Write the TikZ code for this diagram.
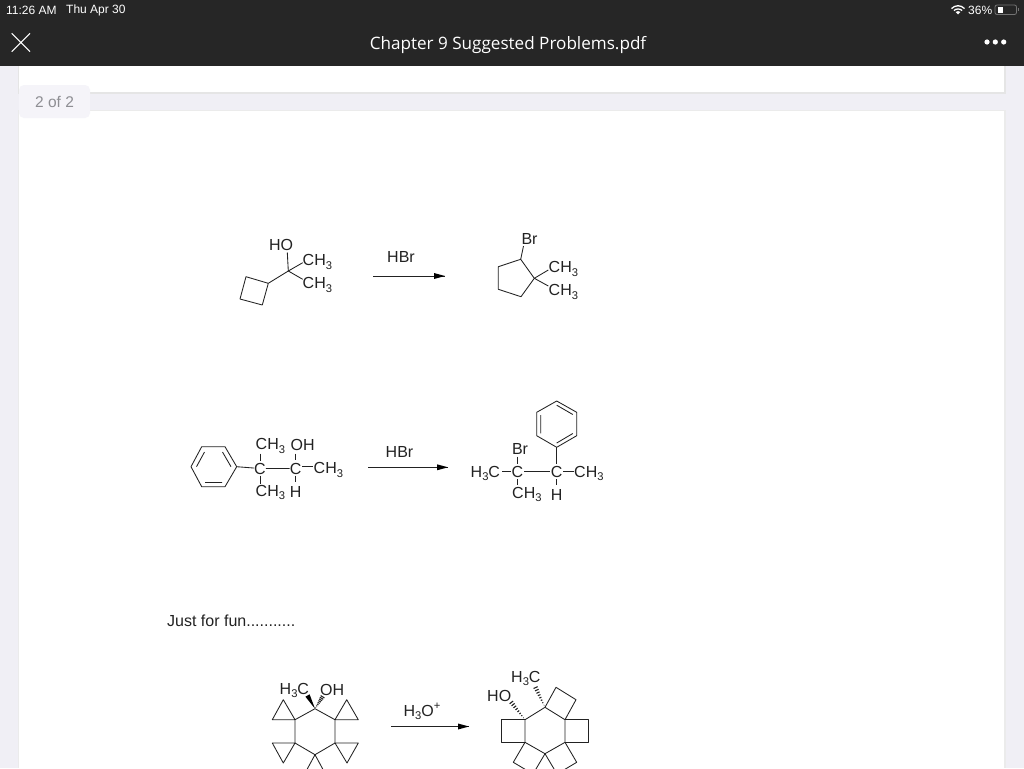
\documentclass[tikz,border=0pt]{standalone}
\usepackage{fontspec}
\usepackage{graphicx}
\setmainfont{Liberation Sans}
\newfontfamily\titlefont{Open Sans}
\usetikzlibrary{calc}
\definecolor{barc}{HTML}{262626}
\definecolor{bgc}{HTML}{F0EFF5}
\definecolor{pillc}{HTML}{F5F4F9}
\definecolor{pilltxt}{HTML}{8E8E93}
\definecolor{inkc}{HTML}{222222}
\newcommand{\subn}[1]{\raisebox{-0.22em}{\scalebox{.7}{#1}}}
\newcommand{\supn}[1]{\raisebox{0.42em}{\scalebox{.7}{#1}}}
\newcommand{\CHt}{CH\subn{3}}
\newcommand{\HtC}{H\subn{3}C}
\newcommand{\hashw}[3]{% from, to, max half width
  \foreach \t in {0.1,0.22,...,1.0}{
    \pgfmathsetmacro{\hw}{#3*\t}
    \draw[line width=1.1pt,inkc] ($(#1)!\t!(#2)!\hw pt!90:(#2)$) -- ($(#1)!\t!(#2)!\hw pt!-90:(#2)$);
  }}
\tikzset{
  x=1pt,y=-1pt,
  bond/.style={draw=inkc,line width=.85pt,line join=round},
  rarrow/.style={draw=inkc,line width=.85pt},
  rhead/.style={fill=black,draw=none},
  chem/.style={inner sep=0pt,anchor=west,font=\fontsize{16}{18}\selectfont,text=inkc},
  chemc/.style={inner sep=0pt,anchor=center,font=\fontsize{16}{18}\selectfont,text=inkc},
  status/.style={inner sep=0pt,text=white,font=\fontsize{12}{14}\selectfont},
}
\newcommand{\rxnarrow}[3]{% x1,x2,y
  \coordinate (ra) at (#1,#3); \coordinate (rb) at (#2,#3);
  \draw[rarrow] (ra) -- (rb);
  \fill[rhead] (#2,#3) -- (#2-11,#3-3) -- (#2-11,#3+3) -- cycle;
}
\begin{document}
\begin{tikzpicture}
\useasboundingbox (0,0) rectangle (1024,768);
\clip (0,0) rectangle (1024,768);
% background and pages
\fill[bgc] (0,0) rectangle (1024,768);
\fill[black!10] (17.5,66) rectangle (1006,93.5);
\fill[white] (19,66) rectangle (1004,92);
\fill[black!8] (17.5,109.5) rectangle (1006,768);
\fill[white] (19,111) rectangle (1004,768);
\fill[barc] (0,0) rectangle (1024,66);
\fill[pillc,rounded corners=5pt] (19,85) rectangle (90,118);
\node[inner sep=0pt,text=pilltxt,font=\fontsize{15.5}{17}\selectfont] (pagelabel) at (54.5,101.5) {2 of 2};
% top bar
\node[status,anchor=west] (clock) at (6,10.5) {11:26 AM};
\node[status,anchor=west] (datelabel) at (66,10.5) {Thu Apr 30};
\node[inner sep=0pt,text=white,font=\titlefont\fontsize{17.1}{20}\selectfont] (title) at (508,45) {Chapter 9 Suggested Problems.pdf};
\draw[white,line width=1.1pt] (11.7,33.3) -- (30,51.7) (30,33.3) -- (11.7,51.7);
\fill[white] (987,42) circle (2.6) (995.3,42) circle (2.6) (1003.7,42) circle (2.6);
\node[status,anchor=west] (battery) at (968,10.5) {36\%};
\draw[black!55,line width=.8pt,rounded corners=2pt] (995,5) rectangle (1016.5,14.5);
\fill[white] (997.5,6.8) rectangle (1003,12.6);
\fill[black!55] (1017.5,8) rectangle (1018.5,11.5);
\draw[white,line width=1.3pt] (951.5,8.6) .. controls (955,4.8) and (961,4.8) .. (964.5,8.6);
\draw[white,line width=1.3pt] (953.9,10.6) .. controls (956,8.4) and (960,8.4) .. (962.1,10.6);
\fill[white] (958,14.5) -- (955.6,12) .. controls (957,10.8) and (959,10.8) .. (960.4,12) -- cycle;

% ---------- reaction 1
\coordinate (a1) at (268.3,283.3); \coordinate (a2) at (246,276.7);
\coordinate (a3) at (240,299); \coordinate (a4) at (262.3,305);
\coordinate (ac) at (288.3,271);
\draw[bond] (a1) -- (a2) -- (a3) -- (a4) -- cycle;
\node[chemc] (ho1) at (281,244.5) {HO};
\node[chem] (me1) at (302.5,262) {\CHt};
\node[chem] (me2) at (302.5,285) {\CHt};
\draw[bond] (a1) -- (ac) (ac) -- (287.3,252.5) (ac) -- (302.7,262.7) (ac) -- (302.7,279.3);
\rxnarrow{373.3}{445}{276}
\node[chemc] (hbr1) at (401,257) {HBr};
\coordinate (b1) at (520.7,259.3); \coordinate (b2) at (498.3,266.7);
\coordinate (b3) at (498.3,289.3); \coordinate (b4) at (521,296.7);
\coordinate (b5) at (534.3,278.3);
\draw[bond] (b1) -- (b2) -- (b3) -- (b4) -- (b5) -- cycle;
\node[chemc] (br1) at (529.5,238.5) {Br};
\node[chem] (me3) at (548.5,269) {\CHt};
\node[chem] (me4) at (548.5,292) {\CHt};
\draw[bond] (b1) -- (523.5,246) (b5) -- (548.3,270) (b5) -- (548.3,286);

% ---------- reaction 2
\coordinate (c1) at (236.7,466.7); \coordinate (c2) at (225,446.7);
\coordinate (c3) at (201.7,446.7); \coordinate (c4) at (191,466.7);
\coordinate (c5) at (201.7,486.7); \coordinate (c6) at (225,486.7);
\draw[bond] (c1) -- (c2) -- (c3) -- (c4) -- (c5) -- (c6) -- cycle;
\draw[bond] (222.5,452) -- (231,466.7) (204.5,452) -- (196.5,466.7) (205,482.5) -- (222,482.5);
\node[chemc] (cc1) at (260,468.5) {C};
\node[chemc] (cc2) at (295.7,468.5) {C};
\node[chem] (t1) at (255.5,446) {\CHt};
\node[chem] (t2) at (290.5,445) {OH};
\node[chem] (t3) at (255.5,492.5) {\CHt};
\node[chemc] (t4) at (295.7,492) {H};
\node[chem] (t5) at (313.5,470) {\CHt};
\draw[bond] (c1) -- (cc1) (cc1) -- (cc2);
\draw[bond] (260,453.5) -- (260,461) (260,475.5) -- (260,483.5);
\draw[bond] (295.7,453.5) -- (295.7,460) (295.7,475.5) -- (295.7,482);
\draw[bond] (302,466.7) -- (313,466.7);
\rxnarrow{368}{448}{467.3}
\node[chemc] (hbr2) at (399.5,451.5) {HBr};
\coordinate (d1) at (556.7,401); \coordinate (d2) at (576.7,412.3);
\coordinate (d3) at (576.7,435.7); \coordinate (d4) at (556.7,447.3);
\coordinate (d5) at (536.7,435.7); \coordinate (d6) at (536.7,412.3);
\draw[bond] (d1) -- (d2) -- (d3) -- (d4) -- (d5) -- (d6) -- cycle;
\draw[bond] (556.7,405.2) -- (572.8,414.5) (572.8,433.5) -- (556.7,443) (540.7,415) -- (540.7,433.3);
\node[chemc] (e1) at (517.3,472) {C};
\node[chemc] (e2) at (556.7,472) {C};
\node[chem] (e3) at (470.5,473.5) {\HtC};
\node[chemc] (e4) at (520,449) {Br};
\node[chem] (e5) at (512,494.5) {\CHt};
\node[chemc] (e6) at (556.7,495) {H};
\node[chem] (e7) at (574,473.5) {\CHt};
\draw[bond] (d4) -- (556.7,464) (524,471) -- (550,471);
\draw[bond] (502,471) -- (511,471) (563,471) -- (573.5,471);
\draw[bond] (517.3,456.7) -- (517.3,463.5) (517.3,479) -- (517.3,484.5) (556.7,479) -- (556.7,484.5);

% ---------- text
\node[chem] (fun) at (167,620.5) {Just for fun...........};

% ---------- reaction 3
\coordinate (f1) at (315,708.7); \coordinate (f2) at (335,719.7);
\coordinate (f3) at (335,743); \coordinate (f4) at (315,754.7);
\coordinate (f5) at (295,743); \coordinate (f6) at (295,719.7);
\draw[bond] (f1) -- (f2) -- (f3) -- (f4) -- (f5) -- (f6) -- cycle;
\draw[bond] (f6) -- (272.3,719.7) -- (283.3,699.7) -- cycle;
\draw[bond] (f2) -- (358.3,719.7) -- (346.7,699.7) -- cycle;
\draw[bond] (f5) -- (272.3,743) -- (283.3,763) -- cycle;
\draw[bond] (f3) -- (358.3,743) -- (347,763) -- cycle;
\draw[bond] (f4) -- (304,775) -- (326,775) -- cycle;
\node[chem] (g1) at (279.5,690.5) {\HtC};
\node[chem] (g2) at (320,689.5) {OH};
\coordinate (gw) at (307.5,695.5); \coordinate (gh) at (323,696);
\fill[black] (f1) -- ($(gw)!2.4pt!90:(f1)$) -- ($(gw)!2.4pt!-90:(f1)$) -- cycle;
\hashw{f1}{gh}{2.4}
\rxnarrow{391}{469}{726.5}
\node[chemc] (h3o) at (422,711.5) {H\subn{3}O\supn{+}};
\coordinate (k1) at (545,707.3); \coordinate (k2) at (565,719.7);
\coordinate (k3) at (565,742.3); \coordinate (k4) at (545,753.7);
\coordinate (k5) at (525,742.3); \coordinate (k6) at (525,719.7);
\draw[bond] (k1) -- (k2) -- (k3) -- (k4) -- (k5) -- (k6) -- cycle;
\draw[bond] (k6) -- (501.7,719.7) -- (501.7,742.3) -- (k5);
\draw[bond] (k2) -- (588.3,719.7) -- (588.3,742.3) -- (k3);
\draw[bond] (k1) -- (556,687.3) -- (576,699.7) -- (k2);
\draw[bond] (k5) -- (513.3,762.3) -- (533,774) -- (k4);
\draw[bond] (k3) -- (576.7,762.3) -- (557,774) -- (k4);
\node[chem] (m1) at (511,678.5) {\HtC};
\node[chem] (m2) at (487,696) {HO};
\coordinate (mh1) at (535,686.3); \coordinate (mh2) at (510.5,701.3);
\hashw{k1}{mh1}{2.4}
\hashw{k6}{mh2}{2.4}
\end{tikzpicture}
\end{document}
